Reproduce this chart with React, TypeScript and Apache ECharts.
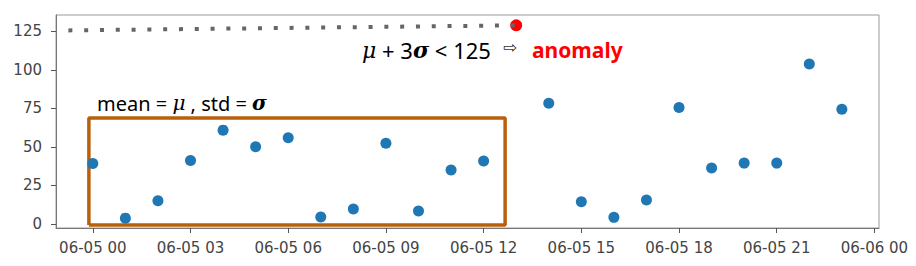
import React, { useEffect, useRef } from "react";
import * as echarts from "echarts";

const hours = [0, 1, 2, 3, 4, 5, 6, 7, 8, 9, 10, 11, 12, 13, 14, 15, 16, 17, 18, 19, 20, 21, 22, 23];
const values = [39.3, 3.8, 15.1, 41.2, 60.9, 50.1, 55.9, 4.5, 9.8, 52.4, 8.4, 35.0, 40.8, 128.9, 78.4, 14.4, 4.3, 15.5, 75.6, 36.3, 39.5, 39.5, 103.8, 74.5];
const anomalyIndex = 13;
const tickHours = [0, 3, 6, 9, 12, 15, 18, 21, 24];
const tickLabels = ["06-05 00", "06-05 03", "06-05 06", "06-05 09", "06-05 12", "06-05 15", "06-05 18", "06-05 21", "06-06 00"];
const yTicks = [0, 25, 50, 75, 100, 125];
const thresholdLine = [[-0.75, 125.6], [13, 128.9]];
const windowBox = { x0: -0.12, x1: 12.66, y0: -0.6, y1: 68.7 };

export default function App() {
  const ref = useRef<HTMLDivElement>(null);
  useEffect(() => {
    if (!ref.current) return;
    const chart = echarts.init(ref.current, undefined, { renderer: "svg" });
    const boxPts = [
      [windowBox.x0, windowBox.y0],
      [windowBox.x1, windowBox.y0],
      [windowBox.x1, windowBox.y1],
      [windowBox.x0, windowBox.y1],
      [windowBox.x0, windowBox.y0],
    ];
    const labelFont = "DejaVu Sans";
    chart.setOption({
      animation: false,
      grid: { left: 56, right: 37, top: 15, bottom: 38, show: true, borderColor: "#9a9a9a", borderWidth: 1, backgroundColor: "transparent" },
      xAxis: {
        type: "value",
        min: -1.13,
        max: 24.14,
        splitLine: { show: false },
        axisLine: { show: true, onZero: false, lineStyle: { color: "#777", width: 1 } },
        axisTick: { show: true, length: 5, customValues: tickHours, lineStyle: { color: "#555" } },
        axisLabel: {
          customValues: tickHours,
          margin: 12,
          color: "#444",
          fontFamily: labelFont,
          fontSize: 15,
          formatter: (v: number) => {
            const i = tickHours.indexOf(Math.round(v));
            return i >= 0 ? tickLabels[i] : "";
          },
        },
      },
      yAxis: {
        type: "value",
        min: -2.6,
        max: 135.6,
        splitLine: { show: false },
        axisLine: { show: true, onZero: false, lineStyle: { color: "#777", width: 1 } },
        axisTick: { show: true, length: 5, customValues: yTicks, lineStyle: { color: "#555" } },
        axisLabel: { customValues: yTicks, margin: 14, color: "#444", fontFamily: labelFont, fontSize: 15 },
      },
      series: [
        {
          type: "line",
          data: boxPts,
          symbol: "none",
          lineStyle: { color: "#b8600c", width: 3.5 },
          z: 2,
        },
        {
          type: "scatter",
          data: hours.map((h, i) => ({
            value: [h, values[i]],
            itemStyle: { color: i === anomalyIndex ? "#ff0000" : "#1f77b4", opacity: 1 },
          })),
          symbolSize: (v: number[]) => (v[0] === hours[anomalyIndex] ? 12 : 11),
          z: 3,
        },
        {
          type: "line",
          data: thresholdLine,
          symbol: "none",
          lineStyle: { color: "#666", width: 4, type: [4, 11.8] },
          z: 4,
        },
      ],
      graphic: [
        {
          type: "text",
          x: 97,
          y: 103,
          style: {
            text: "{a|mean = }{g|μ}{a| , std = }{s|σ}",
            verticalAlign: "middle",
            rich: {
              a: { fontFamily: "Noto Sans", fontSize: 20, fill: "#000" },
              g: { fontFamily: "DejaVu Serif", fontStyle: "italic", fontSize: 20, fill: "#000" },
              s: { fontFamily: "DejaVu Serif", fontStyle: "italic", fontWeight: "bold", fontSize: 20, fill: "#000" },
            },
          },
        },
        {
          type: "text",
          x: 362,
          y: 50,
          style: {
            text: "{g|μ}{a| + 3}{s|σ}{a| < 125}",
            verticalAlign: "middle",
            rich: {
              a: { fontFamily: "Noto Sans", fontSize: 22, fill: "#000" },
              g: { fontFamily: "DejaVu Serif", fontStyle: "italic", fontSize: 22, fill: "#000" },
              s: { fontFamily: "DejaVu Serif", fontStyle: "italic", fontWeight: "bold", fontSize: 22, fill: "#000" },
            },
          },
        },
        {
          type: "text",
          x: 503,
          y: 47,
          style: { text: "⇨", fontFamily: "DejaVu Sans", fontSize: 17, fill: "#333", verticalAlign: "middle" },
        },
        {
          type: "text",
          x: 532,
          y: 50,
          style: { text: "anomaly", fontFamily: "Noto Sans", fontWeight: "bold", fontSize: 21, fill: "#ff0000", verticalAlign: "middle" },
        },
      ],
    });
    return () => chart.dispose();
  }, []);
  return <div ref={ref} style={{ position: "fixed", left: 0, top: 0, width: 916, height: 266, background: "#fff" }} />;
}
